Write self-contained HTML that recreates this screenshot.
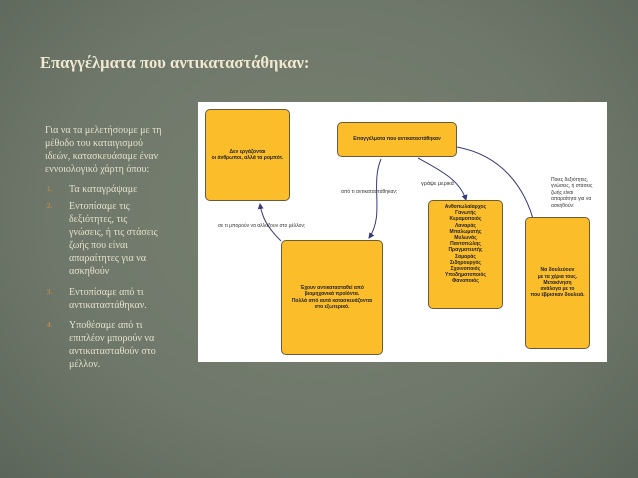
<!DOCTYPE html>
<html><head><meta charset="utf-8"><style>
body{margin:0;width:638px;height:478px;overflow:hidden;background:#6f786b;position:relative;font-family:"Liberation Serif",serif}
.bg{position:absolute;inset:0;background:radial-gradient(ellipse at 50% 45%,#78816f 0%,#6e776a 60%,#5c6559 100%)}
h1{position:absolute;left:40px;top:53px;margin:0;font-size:16.6px;font-weight:bold;color:#efe9cf;white-space:nowrap}
.txt{position:absolute;left:45px;top:124px;width:140px;font-size:10px;line-height:13px;color:#e6e2cc;white-space:nowrap}
.li{position:relative;padding-left:24px;margin-top:7px}
.li span{position:absolute;left:2px;color:#d8983c;font-size:7px}
.panel{position:absolute;left:198px;top:102px;width:409px;height:260px;background:#fff}
.b{position:absolute;background:#fbbd2a;border:1px solid #6b5a3a;border-radius:5px;box-sizing:border-box;font-family:"Liberation Sans",sans-serif;font-size:5px;font-weight:bold;color:#222;text-align:center;display:flex;align-items:center;justify-content:center;line-height:6.2px}
.l{position:absolute;font-family:"Liberation Sans",sans-serif;font-size:5px;color:#333;white-space:nowrap}
</style></head><body><div class="bg"></div>
<h1>Επαγγέλματα που αντικαταστάθηκαν:</h1>
<div class="txt">Για να τα μελετήσουμε με τη<br>μέθοδο του καταιγισμού<br>ιδεών, κατασκευάσαμε έναν<br>εννοιολογικό χάρτη όπου:
<div class="li"><span>1.</span>Τα καταγράψαμε</div>
<div class="li" style="margin-top:4px"><span>2.</span>Εντοπίσαμε τις<br>δεξιότητες,  τις<br>γνώσεις, ή  τις στάσεις<br>ζωής που είναι<br>απαραίτητες για να<br>ασκηθούν</div>
<div class="li" style="margin-top:8px"><span>3.</span>Εντοπίσαμε από τι<br>αντικαταστάθηκαν.</div>
<div class="li" style="margin-top:7px"><span>4.</span>Υποθέσαμε από τι<br>επιπλέον μπορούν να<br>αντικατασταθούν στο<br>μέλλον.</div>
</div>
<div class="panel"></div>
<svg style="position:absolute;left:0;top:0" width="638" height="478">
<defs><marker id="m" markerWidth="6" markerHeight="6" refX="5" refY="3" orient="auto"><path d="M0,0L6,3L0,6z" fill="#3a3a7a"/></marker></defs>
<g fill="none" stroke="#3a3a7a" stroke-width="1">
<path d="M281,241 C268,228 262,218 260,204" marker-end="url(#m)"/>
<path d="M381,159 C370,185 385,215 369,238" marker-end="url(#m)"/>
<path d="M418,158 C440,170 460,180 466,200" marker-end="url(#m)"/>
<path d="M457,147 C500,155 525,185 535,226" marker-end="url(#m)"/>
</g></svg>
<div class="b" style="left:205px;top:109px;width:85px;height:92px">Δεν εργάζονται<br>οι άνθρωποι, αλλά τα ρομπότ.</div>
<div class="b" style="left:337px;top:122px;width:120px;height:35px">Επαγγέλματα που αντικαταστάθηκαν</div>
<div class="b" style="left:428px;top:200px;width:75px;height:109px;align-items:flex-start;padding-top:3px">Ανθοπωλαίαρχος<br>Γανωτής<br>Κεραμοποιός<br>Λαναράς<br>Μπαλωματής<br>Μυλωνάς<br>Παντοπώλης<br>Πραγματευτής<br>Σαμαράς<br>Σιδηρουργός<br>Σχοινοποιός<br>Υποδηματοποιός<br>Φανοποιός</div>
<div class="b" style="left:525px;top:217px;width:65px;height:132px">Να δουλεύουν<br>με τα χέρια τους.<br>Μετακίνηση<br>ανάλογα με το<br>που έβρισκαν δουλειά.</div>
<div class="b" style="left:281px;top:240px;width:102px;height:115px">Έχουν αντικατασταθεί από<br>βιομηχανικά προϊόντα.<br>Πολλά από αυτά κατασκευάζονται<br>στο εξωτερικό.</div>
<div class="l" style="left:218px;top:223px">σε τι μπορούν να αλλάξουν στο μέλλον;</div>
<div class="l" style="left:341px;top:189px">από τι αντικαταστάθηκαν;</div>
<div class="l" style="left:421px;top:181px;font-size:5.5px">γράψε μερικά</div>
<div class="l" style="left:551px;top:177px;line-height:6.4px">Ποιες δεξιότητες,<br>γνώσεις, ή στάσεις<br>ζωής είναι<br>απαραίτητα για να<br>ασκηθούν:</div>
</body></html>
